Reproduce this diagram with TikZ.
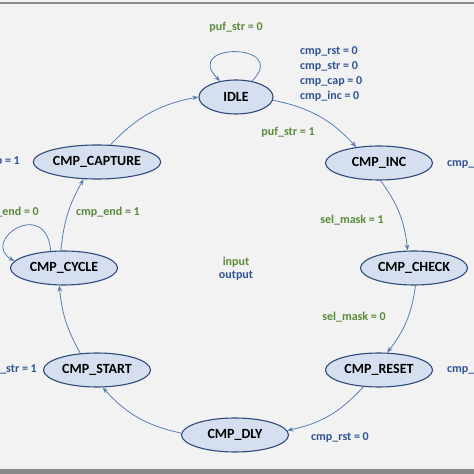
\documentclass[tikz,border=0pt]{standalone}
\usepackage{fontspec}
\setmainfont{Carlito}
\usetikzlibrary{shapes.geometric,arrows.meta}
\definecolor{bgcol}{HTML}{F2F2F2}
\definecolor{statefill}{HTML}{D5DFEF}
\definecolor{stateline}{HTML}{2F4B7C}
\definecolor{arrowcol}{HTML}{5A7DB4}
\definecolor{incol}{HTML}{5A8A3A}
\definecolor{outcol}{HTML}{2F5496}
\definecolor{framecol}{HTML}{8A8A8A}
\begin{document}
\begin{tikzpicture}[x=1pt,y=1pt,
    state/.style={ellipse,draw=stateline,line width=1.1pt,fill=statefill,
      minimum width=107pt,minimum height=34pt,inner sep=1pt,
      font=\fontsize{14}{16}\selectfont\bfseries},
    inlabel/.style={text=incol,inner sep=0pt,font=\fontsize{12}{14}\selectfont\bfseries},
    outlabel/.style={text=outcol,inner sep=0pt,font=\fontsize{12}{14.7}\selectfont\bfseries},
    trans/.style={arrowcol,line width=0.8pt,-{Stealth[length=6pt,width=4.5pt]}}]
  \useasboundingbox (0,0) rectangle (474,474);
  \clip (0,0) rectangle (474,474);
  \fill[bgcol] (0,0) rectangle (474,474);
  \draw[framecol,line width=1.5pt] (0,471) -- (474,471);
  \fill[framecol] (0,0) rectangle (474,5);
  \draw
    (236,377) node[state,minimum width=74pt] (idle){IDLE}
    (379,311) node[state] (inc){CMP\_INC}
    (414,206) node[state] (check){CMP\_CHECK}
    (379,104) node[state] (reset){CMP\_RESET}
    (235,39) node[state] (dly){CMP\_DLY}
    (97,104) node[state] (start){CMP\_START}
    (64,206) node[state] (cycle){CMP\_CYCLE}
    (97,312) node[state] (capture){CMP\_CAPTURE};
  \draw
    (236,447) node[inlabel] (pufzero){puf\_str = 0}
    (300,400) node[outlabel,anchor=west,align=left] (idleout){cmp\_rst = 0\\cmp\_str = 0\\cmp\_cap = 0\\cmp\_inc = 0}
    (288,342) node[inlabel] (pufone){puf\_str = 1}
    (20,312) node[outlabel,anchor=east] (captureout){cmp\_cap = 1}
    (447,311) node[outlabel,anchor=west] (incout){cmp\_inc = 1}
    (352,254) node[inlabel] (selone){sel\_mask = 1}
    (354,157) node[inlabel] (selzero){sel\_mask = 0}
    (447,104) node[outlabel,anchor=west] (resetout){cmp\_rst = 1}
    (311,36) node[outlabel,anchor=west] (dlyout){cmp\_rst = 0}
    (37,104) node[outlabel,anchor=east] (startout){cmp\_str = 1}
    (39,262) node[inlabel,anchor=east] (endzero){cmp\_end = 0}
    (108,262) node[inlabel] (endone){cmp\_end = 1}
    (236,212) node[inlabel] (inkey){input}
    (236,198) node[outlabel] (outkey){output};
  \begin{scope}[trans]
    \draw (idle.45) .. controls +(45:55) and +(135:55) .. (idle.135);
    \draw (idle.-5) to[bend left=18] (inc.145);
    \draw (inc.-85) to[bend left=15] (check.110);
    \draw (check.-85) to[bend left=15] (reset.65);
    \draw (reset.-133) to[bend left=18] (dly.5);
    \draw (dly.178) to[bend left=18] (start.-72);
    \draw (start.135) to[bend left=12] (cycle.-105);
    \draw (cycle.128) .. controls +(95:55) and +(150:40) .. (cycle.172);
    \draw (cycle.100) to[bend left=12] (capture.-128);
    \draw (capture.52) to[bend left=18] (idle.180);
  \end{scope}
\end{tikzpicture}
\end{document}
